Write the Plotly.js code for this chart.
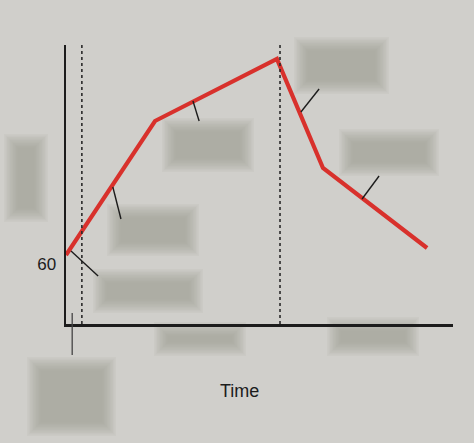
<!DOCTYPE html>
<html>
<head>
<meta charset="utf-8">
<script src="https://cdn.plot.ly/plotly-3.0.1.min.js"></script>
<style>
  html, body { margin: 0; padding: 0; background: #d0cfcb; }
  #chart { width: 474px; height: 443px; }
</style>
</head>
<body>
<div id="chart"></div>
<script>
// heart rate response over time (schematic)
const time = [0, 2.3, 5.45, 6.64, 9.33];
const heartRate = [64.5, 131.5, 162.5, 108, 68];

// exercise start / stop
const events = [0.41, 5.53];
// "before" marker below the axis
const beforeMark = 0.16;

// leader lines for the (hidden) labels: [x0, y0, x1, y1]
const leaderX0 = [0.13, 1.21, 3.28, 6.07, 7.65];
const leaderY0 = [66.5, 98.5, 141.5, 136, 92.5];
const leaderX1 = [0.83, 1.42, 3.44, 6.54, 8.09];
const leaderY1 = [54, 82.5, 131.5, 147.5, 104];

const yTicks = [60];
const yTickText = ["60"];
const xTitle = "Time";

const BG = "#d0cfcb";
const INK = "#1c1c1c";
const RED = "#d8312c";

// plot area in pixels
const L = 66, R = 21, T = 45, B = 119;
const W = 474 - L - R, H = 443 - T - B;

// blurred label boxes, in pixels of the picture
const blurBoxes = [
  [300, 43, 383, 88],
  [168, 124, 248, 166],
  [345, 135, 433, 170],
  [113, 210, 193, 250],
  [99, 275, 197, 307],
  [160, 328, 240, 350],
  [333, 323, 413, 350],
  [33, 363, 110, 430],
  [10, 140, 42, 216],
];

function px(x) { return (x - L) / W; }
function py(y) { return (443 - B - y) / H; }

var shapes = [];

// stack of soft rectangles to fake the blur
for (let i = 0; i < blurBoxes.length; i++) {
  const b = blurBoxes[i];
  for (let k = -5; k <= 4; k++) {
    const d = k * 1.5;
    shapes.push({
      type: "rect", xref: "paper", yref: "paper",
      x0: px(b[0] - d), x1: px(b[2] + d),
      y0: py(b[1] - d), y1: py(b[3] + d),
      fillcolor: "#979693", opacity: 0.09,
      line: { width: 0 }, layer: "below",
    });
  }
}

for (const e of events) {
  shapes.push({
    type: "line", xref: "x", yref: "paper",
    x0: e, x1: e, y0: 0, y1: 1,
    line: { color: "#2a2a2a", width: 1.6, dash: "dot" },
  });
}

shapes.push({
  type: "line", xref: "x", yref: "paper",
  x0: beforeMark, x1: beforeMark, y0: py(313), y1: py(355),
  line: { color: "#444", width: 1.3 },
});

for (let i = 0; i < leaderX0.length; i++) {
  shapes.push({
    type: "line", xref: "x", yref: "y",
    x0: leaderX0[i], y0: leaderY0[i], x1: leaderX1[i], y1: leaderY1[i],
    line: { color: INK, width: 1.4 },
  });
}

var data = [{
  type: "scatter",
  x: time,
  y: heartRate,
  mode: "lines",
  line: { color: RED, width: 4.2 },
  hoverinfo: "skip",
}];

var layout = {
  width: 474,
  height: 443,
  showlegend: false,
  margin: { l: L, r: R, t: T, b: B },
  paper_bgcolor: BG,
  plot_bgcolor: BG,
  font: { family: "Liberation Sans, Arial, sans-serif", color: INK },
  xaxis: {
    range: [0, 10],
    showgrid: false,
    zeroline: false,
    showline: true,
    linecolor: INK,
    linewidth: 2.5,
    showticklabels: false,
    ticks: "",
    fixedrange: true,
  },
  yaxis: {
    range: [30, 169.5],
    showgrid: false,
    zeroline: false,
    showline: true,
    linecolor: INK,
    linewidth: 2.5,
    tickvals: yTicks,
    ticktext: yTickText,
    ticks: "",
    ticklabelstandoff: 4,
    tickfont: { size: 17, color: INK },
    fixedrange: true,
  },
  // axis title sits left of centre in the figure, so it is an annotation
  annotations: [{
    text: xTitle,
    xref: "paper", yref: "paper",
    x: px(239), y: py(391),
    xanchor: "center", yanchor: "middle",
    showarrow: false,
    font: { size: 18, color: INK },
  }],
  shapes: shapes,
};

Plotly.newPlot("chart", data, layout, { displayModeBar: false, staticPlot: true });
</script>
</body>
</html>
